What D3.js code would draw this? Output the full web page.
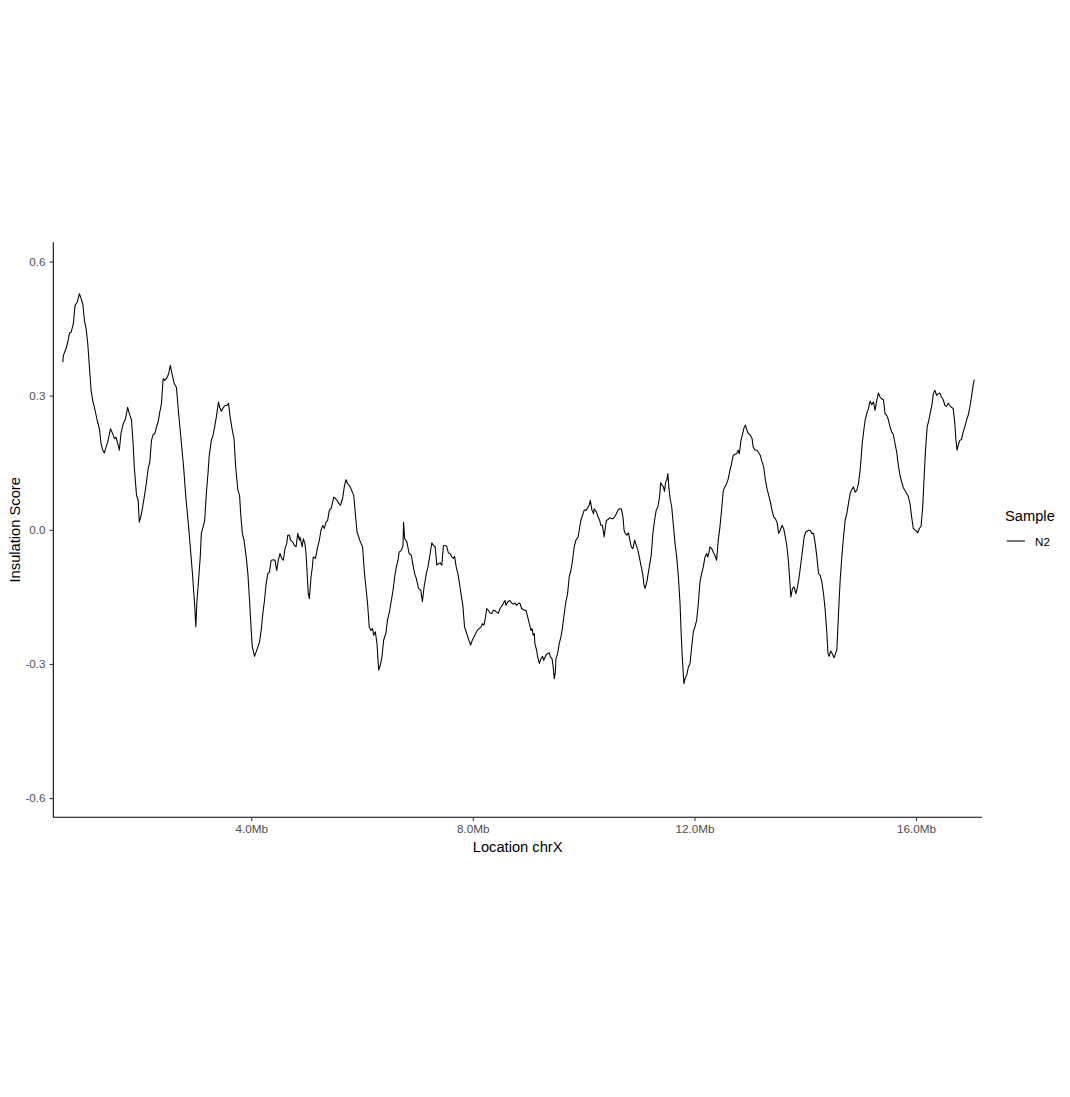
<!DOCTYPE html>
<html>
<head>
<meta charset="utf-8">
<script src="https://cdn.jsdelivr.net/npm/d3@7"></script>
<style>
  html, body { margin: 0; padding: 0; background: #fff; }
  #wrapper { width: 1070px; height: 1097px; }
  text { font-family: "Liberation Sans", Arial, sans-serif; }
</style>
</head>
<body>
<div id="wrapper"></div>
<script>
// position along chrX (Mb)
const positionMb = [
  0.60,0.61,0.66,0.69,0.72,0.75,0.79,0.82,0.86,0.90,0.93,0.96,0.99,1.02,1.05,1.08,1.11,1.14,1.17,1.22,
  1.26,1.29,1.32,1.35,1.38,1.41,1.46,1.50,1.53,1.56,1.60,1.62,1.65,1.69,1.73,1.77,1.80,1.84,1.87,1.89,
  1.93,1.96,1.98,2.02,2.04,2.08,2.11,2.14,2.17,2.20,2.23,2.26,2.29,2.32,2.35,2.38,2.41,2.44,2.47,2.51,
  2.54,2.57,2.59,2.61,2.65,2.69,2.73,2.78,2.82,2.86,2.90,2.94,2.96,2.98,3.00,3.02,3.05,3.08,3.10,3.13,
  3.16,3.19,3.22,3.24,3.28,3.31,3.34,3.37,3.41,3.43,3.46,3.50,3.53,3.56,3.59,3.62,3.66,3.69,3.72,3.76,
  3.79,3.81,3.84,3.87,3.91,3.94,3.97,4.00,4.02,4.06,4.09,4.12,4.15,4.18,4.21,4.24,4.27,4.30,4.33,4.36,
  4.40,4.43,4.46,4.49,4.52,4.55,4.58,4.61,4.64,4.66,4.69,4.71,4.75,4.78,4.81,4.84,4.87,4.88,4.92,4.94,
  4.97,4.99,5.02,5.03,5.05,5.08,5.10,5.12,5.16,5.17,5.20,5.23,5.26,5.29,5.32,5.35,5.38,5.41,5.44,5.49,
  5.52,5.55,5.58,5.61,5.65,5.68,5.71,5.74,5.77,5.80,5.85,5.88,5.91,5.94,5.97,6.01,6.04,6.07,6.10,6.13,
  6.16,6.19,6.21,6.24,6.27,6.30,6.33,6.36,6.39,6.43,6.46,6.50,6.53,6.56,6.59,6.62,6.65,6.67,6.71,6.74,
  6.75,6.77,6.81,6.85,6.89,6.92,6.95,6.98,7.02,7.06,7.09,7.12,7.16,7.19,7.22,7.26,7.29,7.32,7.35,7.38,
  7.41,7.44,7.47,7.50,7.53,7.56,7.59,7.62,7.65,7.67,7.70,7.73,7.76,7.79,7.82,7.85,7.88,7.91,7.94,7.96,
  7.99,8.02,8.05,8.08,8.11,8.15,8.17,8.20,8.23,8.25,8.28,8.31,8.34,8.37,8.40,8.43,8.46,8.49,8.52,8.55,
  8.58,8.60,8.63,8.67,8.70,8.73,8.76,8.79,8.82,8.85,8.88,8.93,8.96,8.99,9.02,9.05,9.07,9.09,9.11,9.12,
  9.15,9.17,9.20,9.23,9.26,9.28,9.32,9.35,9.38,9.40,9.43,9.45,9.47,9.49,9.50,9.53,9.56,9.59,9.62,9.65,
  9.68,9.71,9.74,9.77,9.80,9.83,9.86,9.90,9.92,9.95,9.99,10.01,10.05,10.08,10.10,10.12,10.15,10.18,10.19,10.23,
  10.26,10.29,10.31,10.34,10.37,10.39,10.41,10.44,10.47,10.50,10.53,10.56,10.59,10.62,10.65,10.68,10.71,10.73,10.75,10.78,
  10.81,10.84,10.86,10.89,10.92,10.95,10.98,11.01,11.04,11.07,11.09,11.11,11.14,11.16,11.19,11.22,11.25,11.28,11.31,11.34,
  11.37,11.39,11.42,11.44,11.46,11.48,11.50,11.52,11.54,11.56,11.59,11.62,11.65,11.68,11.71,11.74,11.76,11.78,11.81,11.83,
  11.86,11.89,11.92,11.95,11.98,12.01,12.04,12.07,12.10,12.13,12.16,12.19,12.22,12.24,12.26,12.28,12.31,12.34,12.37,12.40,
  12.43,12.46,12.49,12.52,12.55,12.58,12.61,12.64,12.67,12.70,12.73,12.76,12.79,12.81,12.84,12.87,12.90,12.92,12.95,12.97,
  13.00,13.04,13.06,13.09,13.13,13.15,13.19,13.22,13.25,13.28,13.31,13.34,13.37,13.40,13.43,13.46,13.49,13.52,13.55,13.58,
  13.61,13.64,13.67,13.70,13.72,13.74,13.77,13.80,13.83,13.86,13.89,13.92,13.95,13.98,14.01,14.06,14.09,14.12,14.15,14.18,
  14.21,14.24,14.27,14.30,14.33,14.36,14.39,14.41,14.43,14.46,14.49,14.52,14.55,14.57,14.60,14.63,14.66,14.69,14.72,14.75,
  14.78,14.81,14.84,14.87,14.90,14.93,14.96,14.99,15.01,15.03,15.06,15.08,15.11,15.14,15.17,15.20,15.23,15.26,15.29,15.32,
  15.35,15.38,15.41,15.44,15.47,15.50,15.53,15.56,15.59,15.62,15.65,15.68,15.71,15.74,15.77,15.80,15.83,15.86,15.89,15.92,
  15.95,15.98,16.01,16.03,16.06,16.09,16.12,16.14,16.17,16.20,16.23,16.26,16.29,16.31,16.34,16.37,16.40,16.43,16.46,16.49,
  16.52,16.55,16.58,16.61,16.64,16.67,16.70,16.72,16.74,16.76,16.79,16.82,16.85,16.88,16.91,16.94,16.97,17.00,17.03,17.05
]

// insulation score of sample N2 at each position
const insulationN2 = [
  0.375,0.390,0.406,0.420,0.440,0.442,0.461,0.502,0.509,0.528,0.517,0.505,0.468,0.450,0.416,0.364,0.312,0.289,0.274,0.245,
  0.226,0.193,0.178,0.172,0.185,0.196,0.226,0.215,0.204,0.207,0.189,0.178,0.216,0.237,0.248,0.274,0.260,0.245,0.189,0.140,
  0.077,0.066,0.017,0.036,0.051,0.081,0.107,0.137,0.152,0.200,0.213,0.215,0.230,0.241,0.263,0.282,0.338,0.334,0.338,0.349,
  0.368,0.349,0.338,0.327,0.319,0.260,0.207,0.140,0.073,0.021,-0.038,-0.098,-0.135,-0.169,-0.217,-0.161,-0.113,-0.061,-0.008,0.006,
  0.021,0.081,0.126,0.163,0.200,0.211,0.230,0.252,0.286,0.274,0.265,0.274,0.278,0.278,0.283,0.252,0.222,0.204,0.140,0.088,
  0.077,0.036,-0.008,-0.023,-0.061,-0.098,-0.158,-0.225,-0.262,-0.283,-0.273,-0.262,-0.251,-0.225,-0.187,-0.158,-0.120,-0.098,-0.094,-0.068,
  -0.067,-0.068,-0.091,-0.068,-0.053,-0.064,-0.068,-0.042,-0.031,-0.012,-0.012,-0.023,-0.027,-0.035,-0.038,-0.008,-0.023,-0.016,-0.038,-0.020,
  -0.031,-0.053,-0.120,-0.143,-0.154,-0.105,-0.087,-0.061,-0.064,-0.057,-0.038,-0.023,-0.001,0.010,0.003,0.017,0.021,0.044,0.047,0.073,
  0.070,0.066,0.059,0.055,0.070,0.096,0.112,0.103,0.099,0.092,0.077,0.036,-0.005,-0.016,-0.027,-0.038,-0.091,-0.128,-0.165,-0.217,
  -0.225,-0.221,-0.236,-0.228,-0.254,-0.314,-0.303,-0.284,-0.247,-0.232,-0.202,-0.180,-0.158,-0.135,-0.105,-0.083,-0.068,-0.050,-0.046,-0.035,
  0.017,-0.020,-0.027,-0.053,-0.057,-0.079,-0.098,-0.109,-0.131,-0.135,-0.161,-0.128,-0.098,-0.083,-0.061,-0.029,-0.035,-0.038,-0.079,-0.076,
  -0.074,-0.079,-0.035,-0.035,-0.038,-0.052,-0.053,-0.061,-0.064,-0.059,-0.083,-0.098,-0.120,-0.146,-0.169,-0.217,-0.228,-0.240,-0.251,-0.258,
  -0.247,-0.240,-0.232,-0.225,-0.221,-0.217,-0.210,-0.213,-0.195,-0.176,-0.180,-0.186,-0.187,-0.180,-0.181,-0.184,-0.187,-0.176,-0.171,-0.165,
  -0.158,-0.169,-0.161,-0.158,-0.164,-0.166,-0.164,-0.169,-0.165,-0.164,-0.176,-0.180,-0.180,-0.195,-0.210,-0.225,-0.221,-0.236,-0.232,-0.254,
  -0.269,-0.284,-0.299,-0.288,-0.283,-0.292,-0.280,-0.277,-0.275,-0.284,-0.288,-0.307,-0.333,-0.318,-0.288,-0.277,-0.254,-0.240,-0.217,-0.187,
  -0.161,-0.143,-0.105,-0.091,-0.068,-0.038,-0.023,-0.016,-0.001,0.021,0.036,0.044,0.044,0.051,0.055,0.066,0.044,0.036,0.047,0.040,
  0.029,0.021,0.010,0.010,-0.016,0.003,0.021,0.023,0.027,0.025,0.025,0.029,0.036,0.044,0.047,0.047,0.029,-0.001,-0.008,-0.012,
  -0.007,-0.027,-0.038,-0.042,-0.023,-0.035,-0.046,-0.064,-0.083,-0.102,-0.124,-0.131,-0.117,-0.102,-0.079,-0.057,-0.008,0.021,0.044,0.051,
  0.073,0.105,0.099,0.096,0.086,0.107,0.111,0.126,0.092,0.070,0.051,0.010,-0.031,-0.061,-0.105,-0.165,-0.232,-0.284,-0.344,-0.333,
  -0.325,-0.307,-0.299,-0.262,-0.228,-0.217,-0.202,-0.165,-0.117,-0.098,-0.083,-0.061,-0.053,-0.061,-0.052,-0.038,-0.042,-0.050,-0.057,-0.068,
  -0.023,0.006,0.044,0.088,0.096,0.103,0.114,0.133,0.148,0.166,0.169,0.170,0.178,0.170,0.200,0.215,0.230,0.234,0.222,0.216,
  0.213,0.204,0.185,0.179,0.178,0.174,0.166,0.152,0.140,0.111,0.092,0.077,0.062,0.044,0.029,0.025,0.017,-0.008,-0.001,0.010,
  0.003,-0.016,-0.038,-0.076,-0.113,-0.150,-0.131,-0.128,-0.143,-0.128,-0.105,-0.076,-0.046,-0.016,-0.005,-0.001,-0.001,-0.008,-0.008,-0.031,
  -0.061,-0.098,-0.102,-0.117,-0.143,-0.180,-0.232,-0.277,-0.283,-0.271,-0.278,-0.286,-0.275,-0.269,-0.187,-0.113,-0.061,-0.016,0.021,0.036,
  0.059,0.081,0.090,0.096,0.084,0.088,0.103,0.133,0.163,0.196,0.226,0.245,0.260,0.271,0.288,0.280,0.286,0.267,0.289,0.306,
  0.297,0.293,0.291,0.260,0.256,0.246,0.230,0.219,0.213,0.193,0.174,0.144,0.122,0.107,0.094,0.088,0.081,0.075,0.059,0.029,
  0.003,0.000,-0.003,-0.007,0.003,0.008,0.051,0.103,0.178,0.230,0.245,0.263,0.282,0.304,0.312,0.301,0.304,0.306,0.297,0.291,
  0.278,0.276,0.283,0.278,0.274,0.271,0.237,0.200,0.178,0.189,0.200,0.202,0.219,0.230,0.245,0.256,0.274,0.297,0.323,0.336
]

const sampleNames = ["N2"]
const xTicks = [4, 8, 12, 16]
const yTicks = [-0.6, -0.3, 0, 0.3, 0.6]

const dataset = positionMb.map((p, i) => ({ pos: p, score: insulationN2[i] }))
const xAccessor = d => d.pos
const yAccessor = d => d.score

let dimensions = {
  width: 1070,
  height: 1097,
  margin: { top: 242.3, right: 88, bottom: 279.7, left: 53.3 }
}
dimensions.boundedWidth = dimensions.width - dimensions.margin.left - dimensions.margin.right
dimensions.boundedHeight = dimensions.height - dimensions.margin.top - dimensions.margin.bottom

const wrapper = d3.select("#wrapper")
  .append("svg")
    .attr("width", dimensions.width)
    .attr("height", dimensions.height)
    .style("background", "#fff")

const bounds = wrapper.append("g")
  .attr("transform", `translate(${dimensions.margin.left},${dimensions.margin.top})`)

const xScale = d3.scaleLinear()
  .domain([0.428, 17.19])
  .range([0, dimensions.boundedWidth])

const yScale = d3.scaleLinear()
  .domain([-0.643, 0.643])
  .range([dimensions.boundedHeight, 0])

const lineGenerator = d3.line()
  .x(d => xScale(xAccessor(d)))
  .y(d => yScale(yAccessor(d)))

bounds.append("path")
  .attr("d", lineGenerator(dataset))
  .attr("fill", "none")
  .attr("stroke", "#000")
  .attr("stroke-width", 1.07)
  .attr("stroke-linejoin", "round")

// axes, ggplot theme_classic look (plain hyphen for negatives)
const xAxis = bounds.append("g")
  .attr("transform", `translate(0,${dimensions.boundedHeight})`)
  .call(d3.axisBottom(xScale)
    .tickValues(xTicks)
    .tickSize(3.7)
    .tickPadding(4)
    .tickFormat(d => d.toFixed(1) + "Mb"))
const yAxis = bounds.append("g")
  .call(d3.axisLeft(yScale)
    .tickValues(yTicks)
    .tickSize(3.7)
    .tickPadding(4)
    .tickFormat(d => d.toFixed(1)))

;[xAxis, yAxis].forEach(ax => {
  ax.select(".domain").attr("stroke", "#000").attr("stroke-width", 1.07)
  ax.selectAll(".tick line").attr("stroke", "#333").attr("stroke-width", 1.07)
  ax.selectAll(".tick text")
    .attr("fill", "#4d4d4d")
    .style("font-size", "11.7px")
    .style("font-family", '"Liberation Sans", Arial, sans-serif')
})
xAxis.select(".domain").attr("d", `M0,0H${dimensions.boundedWidth}`)
yAxis.select(".domain").attr("d", `M0,0V${dimensions.boundedHeight}`)

// axis titles
wrapper.append("text")
  .attr("x", dimensions.margin.left + dimensions.boundedWidth / 2)
  .attr("y", 852)
  .attr("text-anchor", "middle")
  .style("font-size", "14.7px")
  .attr("fill", "#000")
  .text("Location chrX")

wrapper.append("text")
  .attr("transform", `translate(20,${dimensions.margin.top + dimensions.boundedHeight / 2}) rotate(-90)`)
  .attr("text-anchor", "middle")
  .style("font-size", "14.7px")
  .attr("fill", "#000")
  .text("Insulation Score")

// legend
const legend = wrapper.append("g")
  .attr("transform", "translate(1005,0)")
legend.append("text")
  .attr("x", 0)
  .attr("y", 521)
  .style("font-size", "14.7px")
  .attr("fill", "#000")
  .text("Sample")
sampleNames.forEach((name, i) => {
  const y = 541 + i * 17
  legend.append("line")
    .attr("x1", 1.7).attr("x2", 20)
    .attr("y1", y).attr("y2", y)
    .attr("stroke", "#000")
    .attr("stroke-width", 1.07)
  legend.append("text")
    .attr("x", 30)
    .attr("y", y + 5)
    .style("font-size", "11.7px")
    .attr("fill", "#000")
    .text(name)
})
</script>
</body>
</html>
